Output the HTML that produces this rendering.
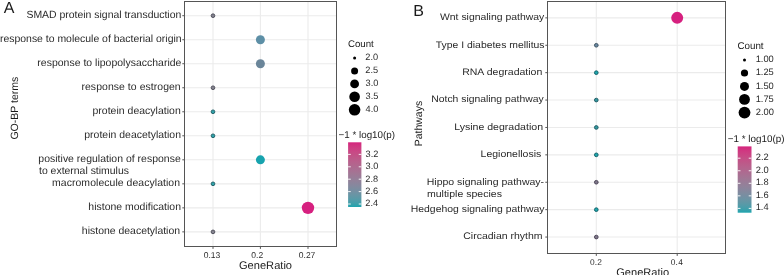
<!DOCTYPE html>
<html><head><meta charset="utf-8"><style>
html,body{margin:0;padding:0;background:#fff;}
body{width:784px;height:275px;overflow:hidden;}
svg{display:block;will-change:transform;}
</style></head><body>
<svg width="784" height="275" viewBox="0 0 784 275" font-family="'Liberation Sans', sans-serif" text-rendering="geometricPrecision">
<rect width="784" height="275" fill="#fff"/>
<line x1="184.5" y1="15.69" x2="336.5" y2="15.69" stroke="#ebebeb" stroke-width="1.1"/>
<line x1="184.5" y1="39.71" x2="336.5" y2="39.71" stroke="#ebebeb" stroke-width="1.1"/>
<line x1="184.5" y1="63.73" x2="336.5" y2="63.73" stroke="#ebebeb" stroke-width="1.1"/>
<line x1="184.5" y1="87.75" x2="336.5" y2="87.75" stroke="#ebebeb" stroke-width="1.1"/>
<line x1="184.5" y1="111.77" x2="336.5" y2="111.77" stroke="#ebebeb" stroke-width="1.1"/>
<line x1="184.5" y1="135.79" x2="336.5" y2="135.79" stroke="#ebebeb" stroke-width="1.1"/>
<line x1="184.5" y1="159.81" x2="336.5" y2="159.81" stroke="#ebebeb" stroke-width="1.1"/>
<line x1="184.5" y1="183.83" x2="336.5" y2="183.83" stroke="#ebebeb" stroke-width="1.1"/>
<line x1="184.5" y1="207.85" x2="336.5" y2="207.85" stroke="#ebebeb" stroke-width="1.1"/>
<line x1="184.5" y1="231.87" x2="336.5" y2="231.87" stroke="#ebebeb" stroke-width="1.1"/>
<line x1="213" y1="1.5" x2="213" y2="246.5" stroke="#ebebeb" stroke-width="1.1"/>
<line x1="260.4" y1="1.5" x2="260.4" y2="246.5" stroke="#ebebeb" stroke-width="1.1"/>
<line x1="308" y1="1.5" x2="308" y2="246.5" stroke="#ebebeb" stroke-width="1.1"/>
<circle cx="213" cy="15.69" r="1.8499999999999999" fill="#84838f" stroke="#4a4956" stroke-width="0.9"/>
<circle cx="260.4" cy="39.71" r="4.5" fill="#5d8fa6"/>
<circle cx="260.4" cy="63.73" r="4.5" fill="#6a8599"/>
<circle cx="213" cy="87.75" r="1.8499999999999999" fill="#84838f" stroke="#4a4956" stroke-width="0.9"/>
<circle cx="213" cy="111.77" r="1.8499999999999999" fill="#2fa3aa" stroke="#1d5a62" stroke-width="0.9"/>
<circle cx="213" cy="135.79" r="1.8499999999999999" fill="#2fa3aa" stroke="#1d5a62" stroke-width="0.9"/>
<circle cx="260.4" cy="159.81" r="4.5" fill="#17a3ae"/>
<circle cx="213" cy="183.83" r="1.8499999999999999" fill="#2fa3aa" stroke="#1d5a62" stroke-width="0.9"/>
<circle cx="308" cy="207.85" r="6.2" fill="#d6207f"/>
<circle cx="213" cy="231.87" r="1.8499999999999999" fill="#84838f" stroke="#4a4956" stroke-width="0.9"/>
<rect x="184.5" y="1.5" width="152.00" height="245.00" fill="none" stroke="#555555" stroke-width="1"/>
<line x1="182.3" y1="15.69" x2="184.5" y2="15.69" stroke="#555555" stroke-width="1"/>
<line x1="182.3" y1="39.71" x2="184.5" y2="39.71" stroke="#555555" stroke-width="1"/>
<line x1="182.3" y1="63.73" x2="184.5" y2="63.73" stroke="#555555" stroke-width="1"/>
<line x1="182.3" y1="87.75" x2="184.5" y2="87.75" stroke="#555555" stroke-width="1"/>
<line x1="182.3" y1="111.77" x2="184.5" y2="111.77" stroke="#555555" stroke-width="1"/>
<line x1="182.3" y1="135.79" x2="184.5" y2="135.79" stroke="#555555" stroke-width="1"/>
<line x1="182.3" y1="159.81" x2="184.5" y2="159.81" stroke="#555555" stroke-width="1"/>
<line x1="182.3" y1="183.83" x2="184.5" y2="183.83" stroke="#555555" stroke-width="1"/>
<line x1="182.3" y1="207.85" x2="184.5" y2="207.85" stroke="#555555" stroke-width="1"/>
<line x1="182.3" y1="231.87" x2="184.5" y2="231.87" stroke="#555555" stroke-width="1"/>
<line x1="213" y1="246.5" x2="213" y2="248.9" stroke="#555555" stroke-width="1"/>
<line x1="260.4" y1="246.5" x2="260.4" y2="248.9" stroke="#555555" stroke-width="1"/>
<line x1="308" y1="246.5" x2="308" y2="248.9" stroke="#555555" stroke-width="1"/>
<text x="26.48" y="18.09" font-size="10.45" letter-spacing="-0.003" fill="#2a2a2a">SMAD protein signal transduction</text>
<text x="-0.03" y="42.11" font-size="10.45" fill="#2a2a2a">response to molecule of bacterial origin</text>
<text x="37.37" y="66.13" font-size="10.45" letter-spacing="0.025" fill="#2a2a2a">response to lipopolysaccharide</text>
<text x="81.47" y="90.15" font-size="10.45" letter-spacing="0.060" fill="#2a2a2a">response to estrogen</text>
<text x="92.47" y="114.17" font-size="10.45" letter-spacing="0.033" fill="#2a2a2a">protein deacylation</text>
<text x="84.27" y="138.19" font-size="10.45" letter-spacing="0.019" fill="#2a2a2a">protein deacetylation</text>
<text x="52.07" y="186.23" font-size="10.45" letter-spacing="0.062" fill="#2a2a2a">macromolecule deacylation</text>
<text x="88.37" y="210.25" font-size="10.45" letter-spacing="0.019" fill="#2a2a2a">histone modification</text>
<text x="81.87" y="234.27" font-size="10.45" letter-spacing="0.007" fill="#2a2a2a">histone deacetylation</text>
<text x="38.37" y="162.11" font-size="10.45" letter-spacing="0.025" fill="#2a2a2a">positive regulation of response</text>
<text x="39.00" y="174.41" font-size="10.45" fill="#2a2a2a">to external stimulus</text>
<text x="203.75" y="257.60" font-size="8.5" fill="#2a2a2a">0.13</text>
<text x="251.36" y="257.60" font-size="8.5" fill="#2a2a2a">0.2</text>
<text x="298.80" y="257.60" font-size="8.5" fill="#2a2a2a">0.27</text>
<text x="238.99" y="269.40" font-size="11.1" fill="#1a1a1a">GeneRatio</text>
<text x="3.7" y="12.9" font-size="16" fill="#1a1a1a">A</text>
<text transform="translate(17.9,108.2) rotate(-90)" text-anchor="middle" font-size="10.5" fill="#1a1a1a">GO-BP terms</text>
<text x="347.91" y="47.00" font-size="9.7" fill="#1a1a1a">Count</text>
<circle cx="354.6" cy="58.1" r="1.5" fill="#000"/>
<text x="365.34" y="60.30" font-size="9.2" fill="#2a2a2a">2.0</text>
<circle cx="354.6" cy="71.1" r="3.5" fill="#000"/>
<text x="365.34" y="73.30" font-size="9.2" fill="#2a2a2a">2.5</text>
<circle cx="354.6" cy="83.9" r="4.4" fill="#000"/>
<text x="365.52" y="86.10" font-size="9.2" fill="#2a2a2a">3.0</text>
<circle cx="354.6" cy="96.7" r="5.3" fill="#000"/>
<text x="365.52" y="98.90" font-size="9.2" fill="#2a2a2a">3.5</text>
<circle cx="354.6" cy="109.8" r="5.8" fill="#000"/>
<text x="365.62" y="112.00" font-size="9.2" fill="#2a2a2a">4.0</text>
<text x="338.61" y="137.60" font-size="9.8" fill="#1a1a1a">−1 * log10(p)</text>
<defs><linearGradient id="gA" x1="0" y1="0" x2="0" y2="1"><stop offset="0.00" stop-color="#d6247e"/><stop offset="0.05" stop-color="#d13480"/><stop offset="0.10" stop-color="#cd3f83"/><stop offset="0.15" stop-color="#c84985"/><stop offset="0.20" stop-color="#c35187"/><stop offset="0.25" stop-color="#bd5989"/><stop offset="0.30" stop-color="#b8608c"/><stop offset="0.35" stop-color="#b2668e"/><stop offset="0.40" stop-color="#ac6c91"/><stop offset="0.45" stop-color="#a67293"/><stop offset="0.50" stop-color="#9f7895"/><stop offset="0.55" stop-color="#987d98"/><stop offset="0.60" stop-color="#91829a"/><stop offset="0.65" stop-color="#89869d"/><stop offset="0.70" stop-color="#808b9f"/><stop offset="0.75" stop-color="#768fa2"/><stop offset="0.80" stop-color="#6b94a4"/><stop offset="0.85" stop-color="#5f98a6"/><stop offset="0.90" stop-color="#509ca9"/><stop offset="0.95" stop-color="#3da0ab"/><stop offset="1.00" stop-color="#1ea4ae"/></linearGradient></defs>
<rect x="348.1" y="142.3" width="13.30" height="64.70" fill="url(#gA)"/>
<line x1="348.1" y1="154.40" x2="350.76" y2="154.40" stroke="#fff" stroke-width="0.9"/>
<line x1="358.74" y1="154.40" x2="361.4" y2="154.40" stroke="#fff" stroke-width="0.9"/>
<text x="365.52" y="156.70" font-size="9.2" fill="#2a2a2a">3.2</text>
<line x1="348.1" y1="166.80" x2="350.76" y2="166.80" stroke="#fff" stroke-width="0.9"/>
<line x1="358.74" y1="166.80" x2="361.4" y2="166.80" stroke="#fff" stroke-width="0.9"/>
<text x="365.52" y="169.10" font-size="9.2" fill="#2a2a2a">3.0</text>
<line x1="348.1" y1="179.20" x2="350.76" y2="179.20" stroke="#fff" stroke-width="0.9"/>
<line x1="358.74" y1="179.20" x2="361.4" y2="179.20" stroke="#fff" stroke-width="0.9"/>
<text x="365.34" y="181.50" font-size="9.2" fill="#2a2a2a">2.8</text>
<line x1="348.1" y1="191.60" x2="350.76" y2="191.60" stroke="#fff" stroke-width="0.9"/>
<line x1="358.74" y1="191.60" x2="361.4" y2="191.60" stroke="#fff" stroke-width="0.9"/>
<text x="365.34" y="193.90" font-size="9.2" fill="#2a2a2a">2.6</text>
<line x1="348.1" y1="204.00" x2="350.76" y2="204.00" stroke="#fff" stroke-width="0.9"/>
<line x1="358.74" y1="204.00" x2="361.4" y2="204.00" stroke="#fff" stroke-width="0.9"/>
<text x="365.34" y="206.30" font-size="9.2" fill="#2a2a2a">2.4</text>
<line x1="547.5" y1="17.87" x2="725.5" y2="17.87" stroke="#ebebeb" stroke-width="1.1"/>
<line x1="547.5" y1="45.27" x2="725.5" y2="45.27" stroke="#ebebeb" stroke-width="1.1"/>
<line x1="547.5" y1="72.66" x2="725.5" y2="72.66" stroke="#ebebeb" stroke-width="1.1"/>
<line x1="547.5" y1="100.06" x2="725.5" y2="100.06" stroke="#ebebeb" stroke-width="1.1"/>
<line x1="547.5" y1="127.46" x2="725.5" y2="127.46" stroke="#ebebeb" stroke-width="1.1"/>
<line x1="547.5" y1="154.85" x2="725.5" y2="154.85" stroke="#ebebeb" stroke-width="1.1"/>
<line x1="547.5" y1="182.25" x2="725.5" y2="182.25" stroke="#ebebeb" stroke-width="1.1"/>
<line x1="547.5" y1="209.65" x2="725.5" y2="209.65" stroke="#ebebeb" stroke-width="1.1"/>
<line x1="547.5" y1="237.05" x2="725.5" y2="237.05" stroke="#ebebeb" stroke-width="1.1"/>
<line x1="596.3" y1="1.5" x2="596.3" y2="253.5" stroke="#ebebeb" stroke-width="1.1"/>
<line x1="677.2" y1="1.5" x2="677.2" y2="253.5" stroke="#ebebeb" stroke-width="1.1"/>
<circle cx="677.2" cy="17.87" r="6.0" fill="#d6207f"/>
<circle cx="596.3" cy="45.27" r="1.8499999999999999" fill="#6786a0" stroke="#3a4f5e" stroke-width="0.9"/>
<circle cx="596.3" cy="72.66" r="1.8499999999999999" fill="#1fa6ad" stroke="#0f5c64" stroke-width="0.9"/>
<circle cx="596.3" cy="100.06" r="1.8499999999999999" fill="#33979f" stroke="#1c5760" stroke-width="0.9"/>
<circle cx="596.3" cy="127.46" r="1.8499999999999999" fill="#33979f" stroke="#1c5760" stroke-width="0.9"/>
<circle cx="596.3" cy="154.85" r="1.8499999999999999" fill="#1fa6ad" stroke="#0f5c64" stroke-width="0.9"/>
<circle cx="596.3" cy="182.25" r="1.8499999999999999" fill="#7e7689" stroke="#463f52" stroke-width="0.9"/>
<circle cx="596.3" cy="209.65" r="1.8499999999999999" fill="#1fa6ad" stroke="#0f5c64" stroke-width="0.9"/>
<circle cx="596.3" cy="237.05" r="1.8499999999999999" fill="#7e7689" stroke="#463f52" stroke-width="0.9"/>
<rect x="547.5" y="1.5" width="178.00" height="252.00" fill="none" stroke="#555555" stroke-width="1"/>
<line x1="545.3" y1="17.87" x2="547.5" y2="17.87" stroke="#555555" stroke-width="1"/>
<line x1="545.3" y1="45.27" x2="547.5" y2="45.27" stroke="#555555" stroke-width="1"/>
<line x1="545.3" y1="72.66" x2="547.5" y2="72.66" stroke="#555555" stroke-width="1"/>
<line x1="545.3" y1="100.06" x2="547.5" y2="100.06" stroke="#555555" stroke-width="1"/>
<line x1="545.3" y1="127.46" x2="547.5" y2="127.46" stroke="#555555" stroke-width="1"/>
<line x1="545.3" y1="154.85" x2="547.5" y2="154.85" stroke="#555555" stroke-width="1"/>
<line x1="545.3" y1="182.25" x2="547.5" y2="182.25" stroke="#555555" stroke-width="1"/>
<line x1="545.3" y1="209.65" x2="547.5" y2="209.65" stroke="#555555" stroke-width="1"/>
<line x1="545.3" y1="237.05" x2="547.5" y2="237.05" stroke="#555555" stroke-width="1"/>
<line x1="596.3" y1="253.5" x2="596.3" y2="255.9" stroke="#555555" stroke-width="1"/>
<line x1="677.2" y1="253.5" x2="677.2" y2="255.9" stroke="#555555" stroke-width="1"/>
<text transform="translate(440.00,20.17) scale(1.0963,1)" font-size="9.5" fill="#2a2a2a">Wnt signaling pathway</text>
<text transform="translate(435.79,47.57) scale(1.0952,1)" font-size="9.5" fill="#2a2a2a">Type I diabetes mellitus</text>
<text transform="translate(462.16,74.96) scale(1.1078,1)" font-size="9.5" fill="#2a2a2a">RNA degradation</text>
<text transform="translate(431.27,102.36) scale(1.0908,1)" font-size="9.5" fill="#2a2a2a">Notch signaling pathway</text>
<text transform="translate(454.16,129.76) scale(1.1115,1)" font-size="9.5" fill="#2a2a2a">Lysine degradation</text>
<text transform="translate(480.56,157.16) scale(1.1043,1)" font-size="9.5" fill="#2a2a2a">Legionellosis</text>
<text transform="translate(410.77,211.95) scale(1.0961,1)" font-size="9.5" fill="#2a2a2a">Hedgehog signaling pathway</text>
<text transform="translate(463.28,239.35) scale(1.1028,1)" font-size="9.5" fill="#2a2a2a">Circadian rhythm</text>
<text transform="translate(426.76,184.85) scale(1.1050,1)" font-size="9.5" fill="#2a2a2a">Hippo signaling pathway-</text>
<text transform="translate(426.97,196.85) scale(1.1089,1)" font-size="9.5" fill="#2a2a2a">multiple species</text>
<text x="589.88" y="264.90" font-size="8.4" letter-spacing="0.25" fill="#2a2a2a">0.2</text>
<text x="670.70" y="264.90" font-size="8.4" letter-spacing="0.25" fill="#2a2a2a">0.4</text>
<text x="616.19" y="275.70" font-size="11.1" fill="#1a1a1a">GeneRatio</text>
<text x="413.2" y="16.3" font-size="16" fill="#1a1a1a">B</text>
<text transform="translate(422.4,123.6) rotate(-90)" text-anchor="middle" font-size="10.5" fill="#1a1a1a">Pathways</text>
<text x="737.41" y="48.60" font-size="9.8" fill="#1a1a1a">Count</text>
<circle cx="744.5" cy="60" r="1.5" fill="#000"/>
<text x="755.65" y="62.10" font-size="9.3" fill="#2a2a2a">1.00</text>
<circle cx="744.5" cy="73" r="3.6" fill="#000"/>
<text x="755.65" y="75.10" font-size="9.3" fill="#2a2a2a">1.25</text>
<circle cx="744.5" cy="86.4" r="4.5" fill="#000"/>
<text x="755.65" y="88.50" font-size="9.3" fill="#2a2a2a">1.50</text>
<circle cx="744.5" cy="99.4" r="5.4" fill="#000"/>
<text x="755.65" y="101.50" font-size="9.3" fill="#2a2a2a">1.75</text>
<circle cx="744.5" cy="112.6" r="5.9" fill="#000"/>
<text x="755.83" y="114.70" font-size="9.3" fill="#2a2a2a">2.00</text>
<text x="727.81" y="141.80" font-size="9.85" fill="#1a1a1a">−1 * log10(p)</text>
<defs><linearGradient id="gB" x1="0" y1="0" x2="0" y2="1"><stop offset="0.00" stop-color="#d6247e"/><stop offset="0.05" stop-color="#d13480"/><stop offset="0.10" stop-color="#cd3f83"/><stop offset="0.15" stop-color="#c84985"/><stop offset="0.20" stop-color="#c35187"/><stop offset="0.25" stop-color="#bd5989"/><stop offset="0.30" stop-color="#b8608c"/><stop offset="0.35" stop-color="#b2668e"/><stop offset="0.40" stop-color="#ac6c91"/><stop offset="0.45" stop-color="#a67293"/><stop offset="0.50" stop-color="#9f7895"/><stop offset="0.55" stop-color="#987d98"/><stop offset="0.60" stop-color="#91829a"/><stop offset="0.65" stop-color="#89869d"/><stop offset="0.70" stop-color="#808b9f"/><stop offset="0.75" stop-color="#768fa2"/><stop offset="0.80" stop-color="#6b94a4"/><stop offset="0.85" stop-color="#5f98a6"/><stop offset="0.90" stop-color="#509ca9"/><stop offset="0.95" stop-color="#3da0ab"/><stop offset="1.00" stop-color="#1ea4ae"/></linearGradient></defs>
<rect x="737.7" y="146.4" width="13.80" height="66.30" fill="url(#gB)"/>
<line x1="737.7" y1="158.20" x2="740.46" y2="158.20" stroke="#fff" stroke-width="0.9"/>
<line x1="748.74" y1="158.20" x2="751.5" y2="158.20" stroke="#fff" stroke-width="0.9"/>
<text x="755.83" y="160.10" font-size="9.3" fill="#2a2a2a">2.2</text>
<line x1="737.7" y1="170.75" x2="740.46" y2="170.75" stroke="#fff" stroke-width="0.9"/>
<line x1="748.74" y1="170.75" x2="751.5" y2="170.75" stroke="#fff" stroke-width="0.9"/>
<text x="755.83" y="172.65" font-size="9.3" fill="#2a2a2a">2.0</text>
<line x1="737.7" y1="183.30" x2="740.46" y2="183.30" stroke="#fff" stroke-width="0.9"/>
<line x1="748.74" y1="183.30" x2="751.5" y2="183.30" stroke="#fff" stroke-width="0.9"/>
<text x="755.65" y="185.20" font-size="9.3" fill="#2a2a2a">1.8</text>
<line x1="737.7" y1="195.85" x2="740.46" y2="195.85" stroke="#fff" stroke-width="0.9"/>
<line x1="748.74" y1="195.85" x2="751.5" y2="195.85" stroke="#fff" stroke-width="0.9"/>
<text x="755.65" y="197.75" font-size="9.3" fill="#2a2a2a">1.6</text>
<line x1="737.7" y1="208.40" x2="740.46" y2="208.40" stroke="#fff" stroke-width="0.9"/>
<line x1="748.74" y1="208.40" x2="751.5" y2="208.40" stroke="#fff" stroke-width="0.9"/>
<text x="755.65" y="210.30" font-size="9.3" fill="#2a2a2a">1.4</text>
</svg>
</body></html>
